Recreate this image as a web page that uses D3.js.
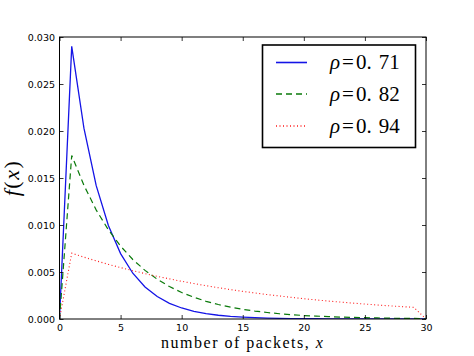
<!DOCTYPE html>
<html>
<head>
<meta charset="utf-8">
<script src="https://cdn.jsdelivr.net/npm/d3@7"></script>
<style>
  html, body { margin: 0; padding: 0; background: #fff; }
  svg { display: block; }
</style>
</head>
<body>
<div id="chart"></div>
<script>
// ---- data ----
const xValues = [0,1,2,3,4,5,6,7,8,9,10,11,12,13,14,15,16,17,18,19,20,21,22,23,24,25,26,27,28,29,30];
const blue71 = [0, 0.0290, 0.0203, 0.01421, 0.00995, 0.00696, 0.00487, 0.00341, 0.00239, 0.00167, 0.00117,
  0.00082, 0.00057, 0.00040, 0.00028, 0.00020, 0.00014, 0.00010, 0.00007, 0.00005, 0.000034,
  0.000024, 0.000017, 0.000012, 0.000008, 0.000006, 0.000004, 0.000003, 0.000002, 0.0000014, 0];
const green82 = [0, 0.0174, 0.01422, 0.01161, 0.00949, 0.00775, 0.00633, 0.00517, 0.00423, 0.00345, 0.00282,
  0.00231, 0.00188, 0.00154, 0.00126, 0.00103, 0.00084, 0.00069, 0.00056, 0.00046, 0.00037,
  0.00031, 0.00025, 0.00020, 0.00017, 0.00014, 0.00011, 0.00009, 0.00007, 0.00006, 0];
const red94 = [0, 0.00700, 0.00658, 0.00619, 0.00581, 0.00547, 0.00514, 0.00483, 0.00454, 0.00427, 0.00401,
  0.00377, 0.00354, 0.00333, 0.00313, 0.00294, 0.00277, 0.00260, 0.00245, 0.00230, 0.00216,
  0.00203, 0.00191, 0.00180, 0.00169, 0.00159, 0.00149, 0.00140, 0.00132, 0.00124, 0];
const seriesNames = ["0.71", "0.82", "0.94"];
const xTicks = [0, 5, 10, 15, 20, 25, 30];
const yTicks = [0, 0.005, 0.010, 0.015, 0.020, 0.025, 0.030];

// ---- layout ----
const W = 474, H = 356;
const L = 59.5, R = 426, T = 37, B = 319;

const svg = d3.select("#chart").append("svg")
  .attr("width", W).attr("height", H);

const x = d3.scaleLinear().domain([0, 30]).range([L, R]);
const y = d3.scaleLinear().domain([0, 0.030]).range([B, T]);

const series = [
  { name: seriesNames[0], values: blue71,  color: "#1414e6", dash: null,  width: 1.3 },
  { name: seriesNames[1], values: green82, color: "#0a7a0a", dash: "6,4", width: 1.2 },
  { name: seriesNames[2], values: red94,   color: "#ff1a1a", dash: "1,2.5", width: 1.1 }
];

const line = d3.line().x((d, i) => x(xValues[i])).y(d => y(d));

svg.append("defs").append("clipPath").attr("id", "clip")
  .append("rect").attr("x", L).attr("y", T).attr("width", R - L).attr("height", B - T);

const plot = svg.append("g").attr("clip-path", "url(#clip)");
series.forEach(s => {
  plot.append("path")
    .datum(s.values)
    .attr("d", line)
    .attr("fill", "none")
    .attr("stroke", s.color)
    .attr("stroke-width", s.width)
    .attr("stroke-dasharray", s.dash)
    .attr("stroke-linejoin", "miter");
});

// ---- axes (ticks inward, all four sides) ----
const tickFont = "'DejaVu Sans', sans-serif";
const gx = svg.append("g").attr("transform", `translate(0,${B})`)
  .call(d3.axisBottom(x).tickValues(xTicks).tickSize(-4).tickPadding(5).tickFormat(d3.format("d")));
const gy = svg.append("g").attr("transform", `translate(${L},0)`)
  .call(d3.axisLeft(y).tickValues(yTicks).tickSize(-4).tickPadding(4.5).tickFormat(d3.format(".3f")));
const gt = svg.append("g").attr("transform", `translate(0,${T})`)
  .call(d3.axisTop(x).tickValues(xTicks).tickSize(-4).tickFormat(""));
const gr = svg.append("g").attr("transform", `translate(${R},0)`)
  .call(d3.axisRight(y).tickValues(yTicks).tickSize(-4).tickFormat(""));

[gx, gy, gt, gr].forEach(g => {
  g.selectAll(".domain").remove();
  g.selectAll(".tick line").attr("stroke", "#000").attr("stroke-width", 0.8);
  g.selectAll(".tick text").attr("fill", "#000")
    .style("font-family", tickFont).style("font-size", "9.5px");
});

svg.append("rect")
  .attr("x", L).attr("y", T).attr("width", R - L).attr("height", B - T)
  .attr("fill", "none").attr("stroke", "#000").attr("stroke-width", 1);

// ---- axis labels ----
const serif = "'Liberation Serif', 'Times New Roman', serif";
const xl = svg.append("text")
  .attr("x", (L + R) / 2).attr("y", 347.5)
  .attr("text-anchor", "middle")
  .style("font-family", serif).style("font-size", "16px").style("letter-spacing", "1.5px")
  .attr("fill", "#000");
xl.append("tspan").text("number of packets, ");
xl.append("tspan").style("font-style", "italic").text("x");

const yl = svg.append("text")
  .attr("transform", `translate(19,${(T + B) / 2}) rotate(-90)`)
  .attr("text-anchor", "middle")
  .style("font-family", serif).style("font-size", "22px").style("letter-spacing", "1.5px")
  .attr("fill", "#000");
yl.append("tspan").style("font-style", "italic").text("f");
yl.append("tspan").text("(");
yl.append("tspan").style("font-style", "italic").text("x");
yl.append("tspan").text(")");

// ---- legend ----
const lg = svg.append("g");
lg.append("rect")
  .attr("x", 262.5).attr("y", 45).attr("width", 153).attr("height", 102.5)
  .attr("fill", "#fff").attr("stroke", "#000").attr("stroke-width", 1.6);

const rowY = [62.5, 94, 126];
series.forEach((s, i) => {
  lg.append("line")
    .attr("x1", 276).attr("x2", 307)
    .attr("y1", rowY[i]).attr("y2", rowY[i])
    .attr("stroke", s.color).attr("stroke-width", s.width + 0.3)
    .attr("stroke-dasharray", s.dash);
  const t = lg.append("text")
    .attr("x", 330).attr("y", rowY[i] + 6.5)
    .style("font-family", serif).style("font-size", "21px")
    .attr("fill", "#000");
  t.append("tspan").style("font-style", "italic").text("ρ");
  t.append("tspan").attr("dx", 2).text("=");
  t.append("tspan").attr("dx", 2).text(s.name.slice(0, 2));
  t.append("tspan").attr("dx", 7).text(s.name.slice(2));
});
</script>
</body>
</html>
